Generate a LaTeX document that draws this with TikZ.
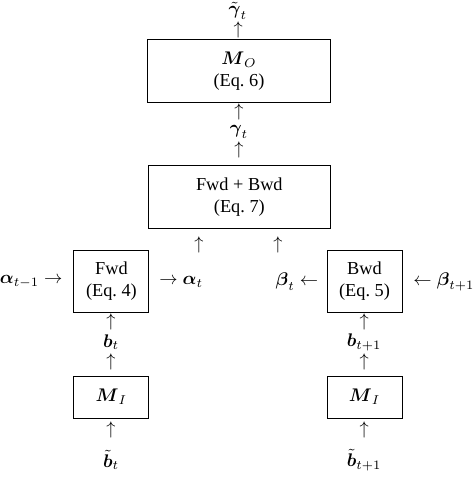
\documentclass[tikz,border=0pt]{standalone}
\usepackage{fontspec}
\setmainfont{Liberation Serif}
\usepackage{amsmath}
\usetikzlibrary{positioning}

\begin{document}
\begin{tikzpicture}[x=1pt,y=-1pt, every node/.style={font=\normalsize,inner sep=0pt}, blk/.style={draw,line width=0.5pt,align=center,minimum height=34.4pt}, wide/.style={minimum width=99.8pt}, narrow/.style={minimum width=41pt}]
		\useasboundingbox (0,0) rectangle (259,265.6);
		% output stage
		\node (gtil) at (130,5.8) {$\tilde{\boldsymbol{\gamma}}_t$};
		\node (upa) at (130.2,16.4) {$\uparrow$};
		\node[blk,wide] (mo) at (130.6,39) {$\boldsymbol{M}_O$\\(Eq.~6)};
		\node (upb) at (130.6,61.2) {$\uparrow$};
		\node (gam) at (130.6,72.1) {$\boldsymbol{\gamma}_t$};
		\node (upc) at (130.6,82) {$\uparrow$};
		\node[blk,wide] (fb) at (130.8,107.7) {Fwd + Bwd\\(Eq.~7)};
		\node (upl) at (108.7,133.9) {$\uparrow$};
		\node (upr) at (151.9,133.9) {$\uparrow$};
		% forward column
		\node[blk,narrow] (fwd) at (60.9,153.8) {Fwd\\(Eq.~4)};
		\node (ain) at (17,154) {$\boldsymbol{\alpha}_{t-1} \rightarrow$};
		\node (aout) at (99,154) {$\rightarrow \boldsymbol{\alpha}_t$};
		\node (upf) at (60.7,176) {$\uparrow$};
		\node (bt) at (60.7,187) {$\boldsymbol{b}_t$};
		\node (upg) at (60.7,197.8) {$\uparrow$};
		\node[blk,narrow,minimum height=23pt] (mil) at (60.9,217) {$\boldsymbol{M}_I$};
		\node (uph) at (60.7,235) {$\uparrow$};
		\node (btil) at (60.7,251.4) {$\tilde{\boldsymbol{b}}_t$};
		% backward column
		\node[blk,narrow] (bwd) at (199.2,153.8) {Bwd\\(Eq.~5)};
		\node (bout) at (162.3,154) {$\boldsymbol{\beta}_t \leftarrow$};
		\node (bin) at (242.6,154) {$\leftarrow \boldsymbol{\beta}_{t+1}$};
		\node (upi) at (199,176) {$\uparrow$};
		\node (bt1) at (199,187) {$\boldsymbol{b}_{t+1}$};
		\node (upj) at (199,197.8) {$\uparrow$};
		\node[blk,narrow,minimum height=23pt] (mir) at (199.2,217) {$\boldsymbol{M}_I$};
		\node (upk) at (199,235) {$\uparrow$};
		\node (btil1) at (199,251.4) {$\tilde{\boldsymbol{b}}_{t+1}$};
	\end{tikzpicture}
\end{document}
